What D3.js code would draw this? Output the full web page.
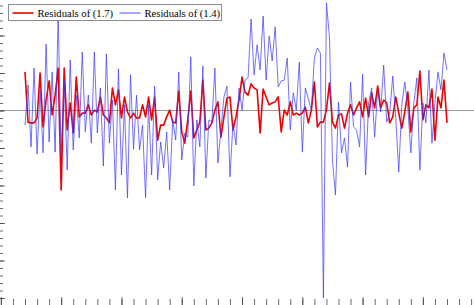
<!DOCTYPE html>
<html>
<head>
<meta charset="utf-8">
<script src="https://cdn.jsdelivr.net/npm/d3@7"></script>
<style>
  html, body { margin: 0; padding: 0; background: #fff; }
  svg { display: block; }
  .tick text { display: none; }
</style>
</head>
<body>
<svg class="residChart" width="474" height="305"></svg>
<script>
var seriesNames = ['Residuals of (1.7)', 'Residuals of (1.4)'];
var seriesColors = ['#ee0000', '#3a3aff'];

// quarterly observations, first one at 1957 Q1
var startYear = 1957;

var resid17 = [
  1.03, -0.31, -0.33, -0.33, -0.20, 1.00, -0.44, 0.28, 0.79, -0.12,
  0.41, 1.13, -2.12, 1.13, -0.52, 0.20, -0.60, 0.89, -0.17, -0.07,
  -0.07, 0.15, -0.12, 0.01, -0.04, 0.36, -0.12, -0.20, -0.33, 0.60,
  0.15, 0.55, -0.20, 0.36, -0.04, -0.20, -0.07, -0.20, -0.20, 0.15,
  -0.17, 0.36, -0.25, 0.36, -0.79, -0.39, -0.39, -0.17, 0.01, -0.31,
  -0.33, 0.52, -0.57, -0.87, -0.25, 0.52, -0.73, -0.52, -0.31, 0.81,
  -0.52, -0.47, -0.33, 0.01, 0.23, -0.71, -0.17, 0.33, 0.36, -0.52,
  -0.17, 0.28, 0.89, 0.49, 0.41, 0.71, 0.60, 0.55, -0.60, 0.57,
  0.36, 0.15, 0.20, 0.23, 0.36, -0.57, 0.01, -0.12, 0.23, -0.12,
  -0.07, -0.12, -0.07, 0.09, -0.33, 0.01, 0.76, -0.44, -0.31, -0.31,
  0.01, 0.73, -0.31, -0.47, -0.12, -0.09, -0.47, -0.07, 0.15, -0.12,
  0.07, 0.23, -0.17, 0.33, -0.17, 0.47, 0.07, 0.65, 0.07, 0.28,
  0.20, -0.33, -0.17, 0.36, -0.07, -0.47, -0.04, 0.49, -0.57, 0.07,
  0.15, 1.05, -0.25, 0.15, 0.07, 0.57, -0.79, 0.36, 0.07, 0.81,
  -0.33
];

var resid14 = [
  -0.39, 0.68, -0.97, 1.13, -1.16, 0.55, -1.13, 1.77, -0.84, 1.03,
  -1.11, 2.55, -1.19, 0.81, -1.59, 1.35, -1.05, 0.41, -0.73, 1.56,
  -0.57, 0.41, -0.87, 1.56, -0.60, 0.60, -1.48, 1.51, -0.87, 0.28,
  -2.12, 1.11, -1.72, 0.15, -2.33, 0.95, -1.03, 0.41, -1.05, -0.39,
  -2.33, 0.15, -1.72, 0.65, -1.85, -0.84, -1.53, -0.57, -2.12, -0.25,
  -0.79, 1.03, -1.32, -0.60, -0.71, 1.43, -2.01, -0.25, -0.97, 1.19,
  -1.80, -0.25, -0.31, 1.13, -1.40, -0.52, 0.36, 0.65, -1.77, -0.33,
  -0.92, 0.60, 0.01, 0.81, 0.87, 2.44, 0.95, 1.75, 1.08, 2.52,
  0.81, 1.99, 1.32, 2.23, 0.63, 0.79, 0.81, 1.40, -0.52, 0.47,
  0.01, 1.29, -1.11, 0.60, 0.31, 0.01, 1.40, 1.67, 1.53, -5.00,
  2.87, 1.96, -1.32, -2.25, 0.23, -1.13, -0.73, -1.51, 0.76, -0.44,
  -0.52, -0.97, 0.97, -1.72, 0.20, 0.60, -0.71, 0.55, -0.04, 1.21,
  -0.31, -0.07, 0.92, -0.20, -1.64, 0.15, 0.76, 0.07, -1.13, 0.20,
  0.87, -1.59, 0.20, -0.33, 1.08, -0.87, 0.20, 1.03, 0.55, 1.53,
  1.08
];

var width = 474;
var height = 305;

var svg = d3.select('svg.residChart');

var x = d3.scaleLinear()
  .domain([startYear, startYear + (resid17.length - 1) / 4])
  .range([25, 447]);

var y = d3.scaleLinear()
  .domain([-5, 3])
  .range([298, -2]);

function toPoints(values) {
  return values.map(function(v, i) {
    return { t: startYear + i / 4, v: v };
  });
}

var line = d3.line()
  .x(function(d) { return x(d.t); })
  .y(function(d) { return y(d.v); });

// zero reference line
svg.append('line')
  .attr('x1', 0)
  .attr('x2', width)
  .attr('y1', y(0))
  .attr('y2', y(0))
  .attr('stroke', '#9a9a9a')
  .attr('stroke-width', 1);

// left ticks, pointing into the plot
var yMinor = d3.range(-25, 15).map(function(k) { return k / 5; });
var yMajor = yMinor.filter(function(v) { return Math.abs(v - Math.round(v)) < 1e-9; });

svg.append('g')
  .attr('class', 'y minor')
  .attr('transform', 'translate(0,0)')
  .call(d3.axisRight(y).tickValues(yMinor).tickSize(3).tickFormat(''));

svg.append('g')
  .attr('class', 'y major')
  .attr('transform', 'translate(0,0)')
  .call(d3.axisRight(y).tickValues(yMajor).tickSize(5).tickFormat(''));

// bottom ticks, one per year, longer every five years
var xMinor = d3.range(1955, 1995);
var xMajor = xMinor.filter(function(yr) { return yr % 5 === 0; });

svg.append('g')
  .attr('class', 'x minor')
  .attr('transform', 'translate(0,' + height + ')')
  .call(d3.axisTop(x).tickValues(xMinor).tickSize(6).tickFormat(''));

svg.append('g')
  .attr('class', 'x major')
  .attr('transform', 'translate(0,' + height + ')')
  .call(d3.axisTop(x).tickValues(xMajor).tickSize(8).tickFormat(''));

svg.selectAll('.domain').remove();
svg.selectAll('.tick line')
  .attr('stroke', '#444')
  .attr('stroke-width', 0.8);

// the two residual series
svg.append('path')
  .datum(toPoints(resid17))
  .attr('fill', 'none')
  .attr('stroke', seriesColors[0])
  .attr('stroke-width', 1.6)
  .attr('stroke-linejoin', 'round')
  .attr('d', line);

svg.append('path')
  .datum(toPoints(resid14))
  .attr('fill', 'none')
  .attr('stroke', seriesColors[1])
  .attr('stroke-opacity', 0.8)
  .attr('stroke-width', 0.9)
  .attr('stroke-linejoin', 'round')
  .attr('d', line);

// legend
var legend = svg.append('g')
  .attr('class', 'legend')
  .attr('transform', 'translate(8.5, 4.5)');

legend.append('rect')
  .attr('width', 213)
  .attr('height', 16)
  .attr('fill', '#fff')
  .attr('stroke', '#8c8c8c')
  .attr('stroke-width', 1);

var items = legend.selectAll('g.item')
  .data(seriesNames)
  .enter()
  .append('g')
  .attr('class', 'item')
  .attr('transform', function(d, i) { return 'translate(' + (4 + i * 107) + ',0)'; });

items.append('line')
  .attr('x1', 0)
  .attr('x2', 21)
  .attr('y1', 8.5)
  .attr('y2', 8.5)
  .attr('stroke', function(d, i) { return seriesColors[i]; })
  .attr('stroke-width', function(d, i) { return i === 0 ? 1.6 : 0.9; });

items.append('text')
  .attr('x', 25)
  .attr('y', 12.3)
  .attr('fill', '#000')
  .style('font-family', '"Liberation Serif", "DejaVu Serif", serif')
  .style('font-size', '10.6px')
  .text(function(d) { return d; });
</script>
</body>
</html>
